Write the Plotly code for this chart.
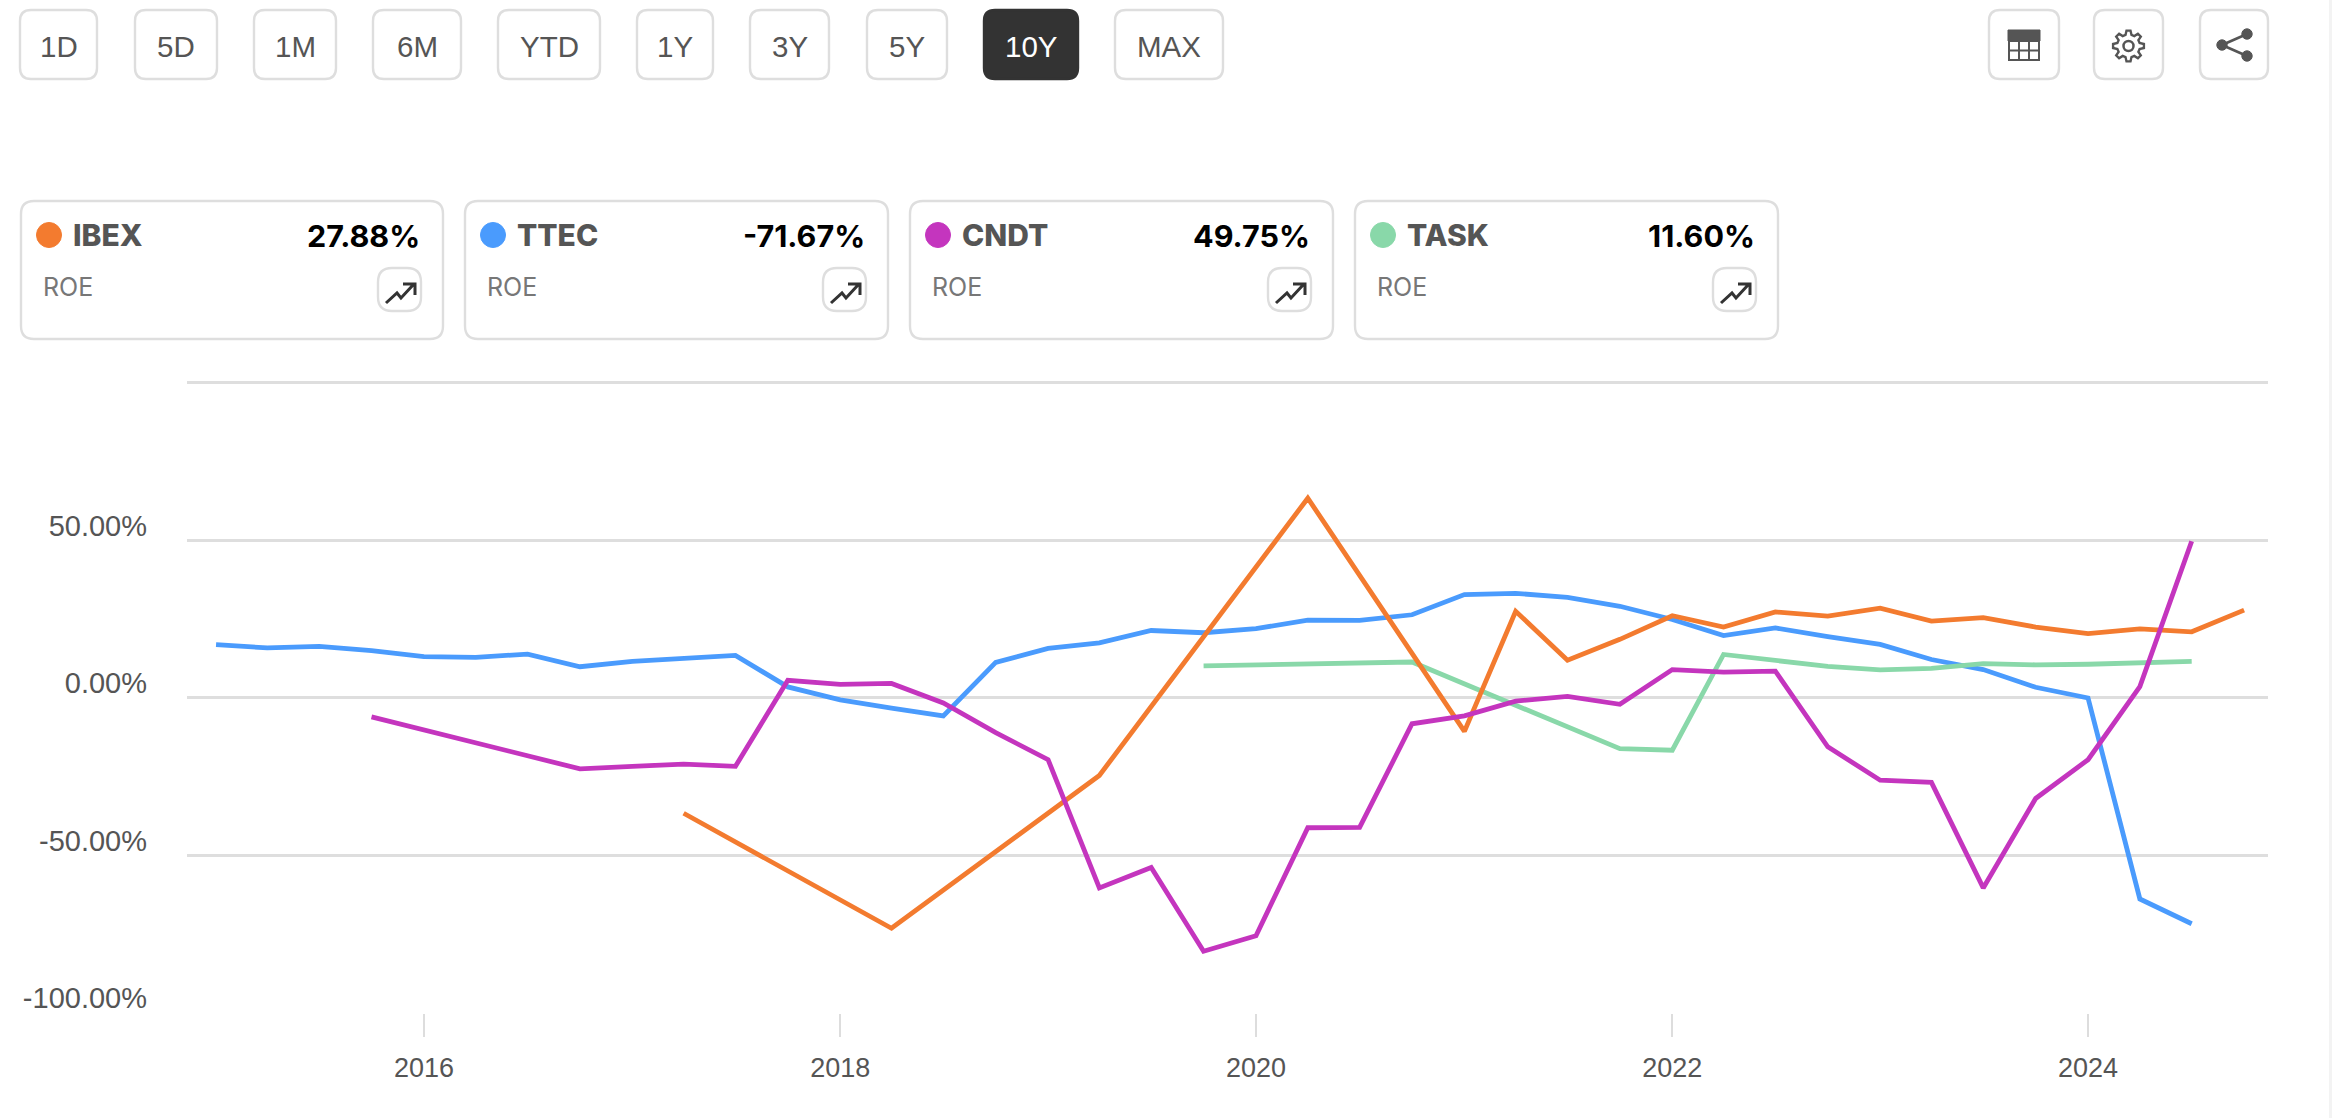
import math
import plotly.graph_objects as go

W, H = 2332, 1118

# ---- data ----
ibex_dates = ["2017-04-01", "2018-04-01", "2019-04-01", "2020-04-01", "2021-01-01", "2021-04-01", "2021-07-01",
              "2021-10-01", "2022-01-01", "2022-04-01", "2022-07-01", "2022-10-01", "2023-01-01", "2023-04-01",
              "2023-07-01", "2023-10-01", "2024-01-01", "2024-04-01", "2024-07-01", "2024-10-01"]
ibex_values = [-36.6, -73.1, -24.6, 63.4, -10.6, 27.5, 12.0, 18.6, 26.1, 22.5, 27.3, 26.0, 28.5, 24.4, 25.5,
               22.5, 20.4, 21.9, 21.0, 27.88]

ttec_dates = ["2015-01-01", "2015-04-01", "2015-07-01", "2015-10-01", "2016-01-01", "2016-04-01", "2016-07-01",
              "2016-10-01", "2017-01-01", "2017-04-01", "2017-07-01", "2017-10-01", "2018-01-01", "2018-04-01",
              "2018-07-01", "2018-10-01", "2019-01-01", "2019-04-01", "2019-07-01", "2019-10-01", "2020-01-01",
              "2020-04-01", "2020-07-01", "2020-10-01", "2021-01-01", "2021-04-01", "2021-07-01", "2021-10-01",
              "2022-01-01", "2022-04-01", "2022-07-01", "2022-10-01", "2023-01-01", "2023-04-01", "2023-07-01",
              "2023-10-01", "2024-01-01", "2024-04-01", "2024-07-01"]
ttec_values = [16.9, 15.9, 16.4, 15.0, 13.1, 12.9, 13.9, 9.9, 11.6, 12.5, 13.5, 3.5, -0.6, -3.2, -5.7, 11.3,
               15.7, 17.5, 21.4, 20.7, 22.0, 24.7, 24.6, 26.4, 32.8, 33.2, 31.9, 29.1, 24.9, 19.8, 22.2, 19.5,
               17.0, 12.2, 9.0, 3.4, 0.0, -63.8, -71.67]

cndt_dates = ["2015-10-01", "2016-10-01", "2017-01-01", "2017-04-01", "2017-07-01", "2017-10-01", "2018-01-01",
              "2018-04-01", "2018-07-01", "2018-10-01", "2019-01-01", "2019-04-01", "2019-07-01", "2019-10-01",
              "2020-01-01", "2020-04-01", "2020-07-01", "2020-10-01", "2021-01-01", "2021-04-01", "2021-07-01",
              "2021-10-01", "2022-01-01", "2022-04-01", "2022-07-01", "2022-10-01", "2023-01-01", "2023-04-01",
              "2023-07-01", "2023-10-01", "2024-01-01", "2024-04-01", "2024-07-01"]
cndt_values = [-6.0, -22.5, -21.7, -21.0, -21.7, 5.6, 4.3, 4.6, -1.6, -11.0, -19.6, -60.3, -53.8, -80.4, -75.5,
               -41.2, -41.1, -8.2, -5.7, -1.0, 0.5, -2.0, 9.0, 8.2, 8.5, -15.5, -26.1, -26.8, -60.3, -31.9,
               -19.6, 3.6, 49.75]

task_dates = ["2019-10-01", "2020-10-01", "2021-10-01", "2022-01-01", "2022-04-01", "2022-07-01", "2022-10-01",
              "2023-01-01", "2023-04-01", "2023-07-01", "2023-10-01", "2024-01-01", "2024-04-01", "2024-07-01"]
task_values = [10.2, 11.4, -16.1, -16.6, 13.8, 11.8, 10.0, 8.9, 9.4, 10.9, 10.5, 10.7, 11.3, 11.6]

tickers = ["IBEX", "TTEC", "CNDT", "TASK"]
card_values = ["27.88%", "-71.67%", "49.75%", "11.60%"]
colors = ["#F37B2F", "#4A9BFD", "#C435BE", "#89D8A9"]
metric = "ROE"

y_ticks = [-100, -50, 0, 50, 100]
y_labels = ["-100.00%", "-50.00%", "0.00%", "50.00%", ""]
x_ticks = ["2016-01-01", "2018-01-01", "2020-01-01", "2022-01-01", "2024-01-01"]
x_labels = ["2016", "2018", "2020", "2022", "2024"]
ranges = ["1D", "5D", "1M", "6M", "YTD", "1Y", "3Y", "5Y", "10Y", "MAX"]

series = [(ibex_dates, ibex_values), (ttec_dates, ttec_values), (cndt_dates, cndt_values), (task_dates, task_values)]
draw_order = [1, 3, 0, 2]

# ---- layout constants ----
PX_L, PX_R, PX_T, PX_B = 187, 2268, 381, 1013
GRID = "#DEDEDE"
TXT = "#555555"
SANS = "Liberation Sans, Arial, sans-serif"
UI = "Inter, sans-serif"

fig = go.Figure()
for i in draw_order:
    d, v = series[i]
    fig.add_trace(go.Scatter(x=d, y=v, mode="lines", name=tickers[i],
                             line=dict(color=colors[i], width=4.8, shape="linear"),
                             hoverinfo="x+y+name", showlegend=False))
# invisible overlay trace activates the pixel overlay axes
fig.add_trace(go.Scatter(x=[None], y=[None], xaxis="x2", yaxis="y2", showlegend=False, hoverinfo="skip"))

shapes, annos = [], []


def rrect(x0, y0, x1, y1, r=11, fill="rgba(0,0,0,0)", line="#DEDEDE", w=2.4):
    p = (f"M{x0+r},{y0} L{x1-r},{y0} Q{x1},{y0} {x1},{y0+r} L{x1},{y1-r} Q{x1},{y1} {x1-r},{y1} "
         f"L{x0+r},{y1} Q{x0},{y1} {x0},{y1-r} L{x0},{y0+r} Q{x0},{y0} {x0+r},{y0} Z")
    shapes.append(dict(type="path", xref="x2", yref="y2", path=p, fillcolor=fill,
                       line=dict(color=line, width=w), layer="above"))


def path(p, color="#555555", w=2.5, fill="rgba(0,0,0,0)"):
    shapes.append(dict(type="path", xref="x2", yref="y2", path=p, fillcolor=fill,
                       line=dict(color=color, width=w), layer="above"))


def circle(cx, cy, r, fill, line=None):
    shapes.append(dict(type="circle", xref="x2", yref="y2", x0=cx-r, x1=cx+r, y0=cy-r, y1=cy+r,
                       fillcolor=fill, line=dict(color=line or fill, width=1 if line is None else 2.5), layer="above"))


def text(x, y, s, size, color, anchor="center", family=SANS, weight=400):
    annos.append(dict(xref="x2", yref="y2", x=x, y=y, text=s, showarrow=False, xanchor=anchor, yanchor="middle",
                      font=dict(size=size, color=color, family=family, weight=weight)))


# window edge strip
shapes.append(dict(type="rect", xref="x2", yref="y2", x0=2329, x1=2332, y0=0, y1=H,
                   fillcolor="#F3F3F3", line=dict(width=0), layer="above"))

# range buttons
btn_x = [(20, 97), (135, 217), (254, 336), (373, 461), (498, 600), (637, 713), (750, 829), (867, 947), (984, 1078), (1115, 1223)]
for lab, (a, b) in zip(ranges, btn_x):
    on = lab == "10Y"
    rrect(a, 10, b, 79, fill="#333333" if on else "#FFFFFF", line="#333333" if on else "#DEDEDE")
    text((a + b) / 2, 46, lab, 29.5, "#FFFFFF" if on else TXT)

# tool buttons
for a, b in [(1989, 2059), (2094, 2163), (2200, 2268)]:
    rrect(a, 10, b, 79)
# table icon
path("M2008,30 H2040 V41 H2008 Z", fill="#555555", w=1)
path("M2009,41 H2039 V60 H2009 Z M2019,41 V60 M2029,41 V60 M2009,50.5 H2039", w=2)
# gear icon
pts = []
cx, cy, n = 2128.5, 46, 8
for k in range(n):
    c = 2 * math.pi * k / n - math.pi / 2
    for da, rr in [(-0.26, 11.5), (-0.13, 15.5), (0.13, 15.5), (0.26, 11.5)]:
        pts.append((cx + rr * math.cos(c + da), cy + rr * math.sin(c + da)))
path("M" + " L".join(f"{x:.1f},{y:.1f}" for x, y in pts) + " Z", w=2.4)
circle(cx, cy, 5, "rgba(0,0,0,0)", line="#555555")
# share icon
path("M2222,45 L2247,34 M2222,45 L2247,56", w=2.6)
circle(2222, 45, 5.2, "#555555")
circle(2247, 34, 5.2, "#555555")
circle(2247, 56, 5.2, "#555555")

# metric cards
card_x = [(21, 443), (465, 888), (910, 1333), (1355, 1778)]
for t, v, c, (a, b) in zip(tickers, card_values, colors, card_x):
    rrect(a, 201, b, 339, r=13)
    circle(a + 28, 235, 12.5, c)
    text(a + 50, 235, t, 30, TXT, "left", UI, 800)
    text(b - 21, 235, v, 30.5, "#000000", "right", UI, 700)
    text(a + 20, 287, metric, 25, "#777777", "left", UI)
    r = b - 22
    rrect(r - 43, 268, r, 311, r=14)
    path(f"M{r-35},303 L{r-24},293 L{r-20},298 L{r-8},285 M{r-18},284 H{r-6} V295", color="#333333", w=3)

fig.update_layout(
    width=W, height=H, autosize=False,
    margin=dict(l=0, r=0, t=0, b=0, pad=0),
    paper_bgcolor="#FFFFFF", plot_bgcolor="rgba(0,0,0,0)",
    xaxis=dict(domain=[PX_L / W, PX_R / W], type="date", range=["2014-11-11", "2024-11-12"],
               tickmode="array", tickvals=x_ticks, ticktext=x_labels, showgrid=False, zeroline=False,
               showline=False, ticks="outside", ticklen=23, tickwidth=1.5, tickcolor="#DDDDDD",
               ticklabelstandoff=8, anchor="y",
               tickfont=dict(size=27, color=TXT, family=SANS)),
    yaxis=dict(domain=[(H - PX_B) / H, (H - PX_T) / H], range=[-100, 100.6],
               tickmode="array", tickvals=y_ticks, ticktext=y_labels, showgrid=True, gridcolor=GRID, gridwidth=2.5,
               zeroline=False, showline=False, ticks="", anchor="x", ticklabelstandoff=39, ticklabelshift=-15,
               tickfont=dict(size=29, color=TXT, family=SANS)),
    xaxis2=dict(domain=[0, 1], range=[0, W], visible=False, anchor="y2", fixedrange=True),
    yaxis2=dict(domain=[0, 1], range=[H, 0], visible=False, anchor="x2", fixedrange=True),
    shapes=shapes, annotations=annos, showlegend=False, hovermode="closest",
)

fig.write_html("out.html", config={"displayModeBar": False},
               post_script="document.body.style.margin='0';document.body.style.overflow='hidden';")
